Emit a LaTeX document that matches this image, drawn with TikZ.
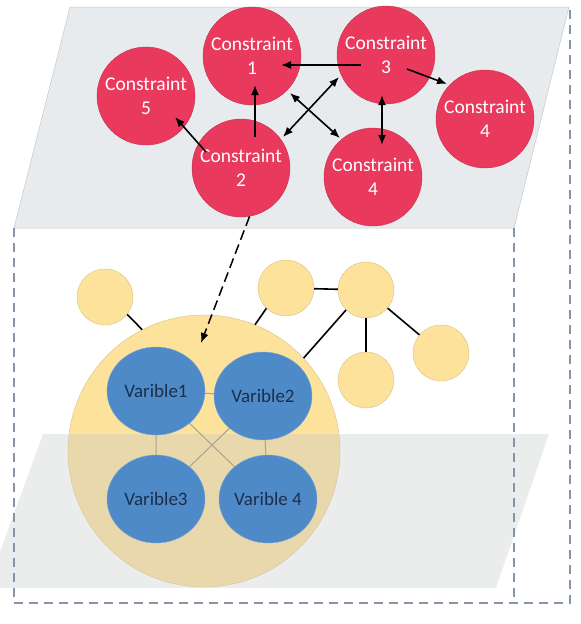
\documentclass[tikz,border=0pt]{standalone}
\usepackage{fontspec}
\newfontfamily\calib{Carlito}
\usetikzlibrary{shapes.geometric,arrows.meta,calc}
\definecolor{conred}{HTML}{E93A5E}
\definecolor{domyellow}{HTML}{FDE29C}
\definecolor{varblue}{HTML}{4F8AC8}
\definecolor{vartext}{HTML}{1B2F4B}
\definecolor{planegray}{HTML}{E8EBEE}
\definecolor{guidegray}{HTML}{8595A8}
\definecolor{varlink}{HTML}{A6A48E}
\tikzset{constraint/.style={circle,minimum size=98pt,inner sep=0pt,fill=conred,
           draw=conred!85!black,text=white,align=center,
           font=\calib\fontsize{19.5}{24}\selectfont},
         varnode/.style={ellipse,minimum width=98pt,minimum height=88pt,inner sep=0pt,
           fill=varblue,draw=varblue!75!white,text=vartext,
           font=\calib\fontsize{19}{22}\selectfont},
         dombox/.style={circle,inner sep=0pt,fill=domyellow,draw=domyellow!85!black},
         link/.style={draw,line width=1.6pt,black},
         varline/.style={draw=varlink,line width=1pt},
         arr/.style={link,-{Latex[length=10pt,width=8pt]}},
         dblarr/.style={link,{Latex[length=10pt,width=8pt]}-{Latex[length=10pt,width=8pt]}},
         guide/.style={draw=guidegray,line width=1.2pt,dash pattern=on 9pt off 6pt},
         plane/.style={fill=planegray,draw=planegray!85!black,line width=0.5pt}}

\begin{document}
\begin{tikzpicture}[x=1pt,y=-1pt]
  \useasboundingbox (0,0) rectangle (581,624);

  % upper plane
  \path[plane] (70,7) -- (569,7) -- (514,228) -- (14,228) -- cycle;

  % domain of the constraint
  \node[dombox,minimum size=272pt] (big) at (204,451) {};
  \node[dombox,minimum size=56pt] (y1) at (105,297) {};
  \node[dombox,minimum size=56pt] (y2) at (286,288) {};
  \node[dombox,minimum size=56pt] (y3) at (366,290) {};
  \node[dombox,minimum size=56pt] (y4) at (441,353) {};
  \node[dombox,minimum size=56pt] (y5) at (366,380) {};

  % lower plane
  \fill[planegray!85!black,fill opacity=0.35]
    (43,434) -- (549,434) -- (496,588) -- (0,588) -- (0,552) -- cycle;

  % dashed frame
  \draw[guide] (570,10) -- (570,603) -- (14,603) -- (14,228);
  \draw[guide] (514,228) -- (514,603);

  % variables
  \coordinate (p1) at (156,391);
  \coordinate (p2) at (263,396);
  \coordinate (p3) at (156,499);
  \coordinate (p4) at (268,499);
  \draw[varline] (p1) -- (p2) (p1) -- (p3) (p2) -- (p4) (p1) -- (p4) (p2) -- (p3);
  \node[varnode] (v1) at (p1) {Varible1};
  \node[varnode] (v2) at (p2) {Varible2};
  \node[varnode] (v3) at (p3) {Varible3};
  \node[varnode] (v4) at (p4) {Varible 4};

  \draw[link] (y1.-38) -- (big.117);
  \draw[link] (y2.226) -- (big.68);
  \draw[link] (y3.225) -- (big.43);
  \draw[link] (y2) -- (y3);
  \draw[link] (y3) -- (y4);
  \draw[link] (y3) -- (y5);

  % constraints
  \node[constraint] (c1) at (252,56) {Constraint\\1};
  \node[constraint] (c3) at (386,55) {Constraint\\3};
  \node[constraint] (c5) at (146,96) {Constraint\\5};
  \node[constraint] (c2) at (241,168) {Constraint\\2};
  \node[constraint] (c4) at (373,177) {Constraint\\4};
  \node[constraint] (c6) at (485,119) {Constraint\\4};

  \draw[arr] ($(c3)+(-25,10)$) -- ($(c1)+(29,9)$);
  \draw[arr] ($(c2)+(14,-31)$) -- ($(c1)+(3,29)$);
  \draw[arr] ($(c2)+(-35,-16)$) -- ($(c5)+(29,21)$);
  \draw[dblarr] ($(c2)+(42,-31)$) -- ($(c3)+(-47,22)$);
  \draw[dblarr] ($(c1)+(38,37)$) -- ($(c4)+(-33,-39)$);
  \draw[dblarr] ($(c3)+(-4,40)$) -- ($(c4)+(9,-32)$);
  \draw[arr] ($(c3)+(21,14)$) -- ($(c6)+(-38,-35)$);

  % mapping to the domain
  \coordinate (tip) at (201,343);
  \draw[line width=1.5pt,dash pattern=on 10pt off 5pt,-{Latex[length=10pt,width=8pt]}]
    (c2.-80) -- (tip);
\end{tikzpicture}
\end{document}
